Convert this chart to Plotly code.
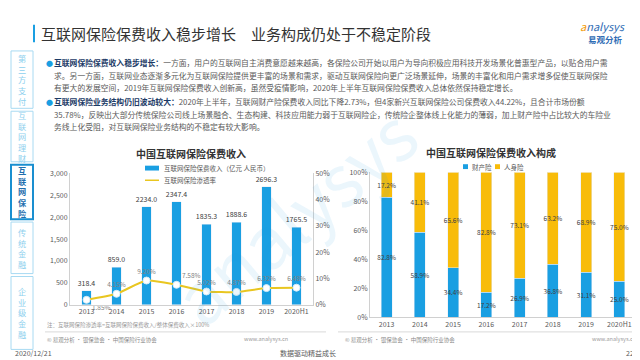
import plotly.graph_objects as go

# ---------------- data ----------------
years = ["2013", "2014", "2015", "2016", "2017", "2018", "2019", "2020H1"]
premium = [318.4, 859.0, 2234.0, 2347.4, 1835.3, 1888.6, 2696.3, 1765.5]
penetration = [1.85, 4.15, 9.20, 7.58, 5.02, 4.87, 6.32, 6.48]
property_share = [82.8, 58.9, 34.4, 17.2, 26.9, 36.8, 31.1, 25.0]
life_share = [17.2, 41.1, 65.6, 82.8, 73.1, 63.2, 68.9, 75.0]

W, H = 640, 360
FONT = "Noto Sans CJK SC"
BLUE = "#1A9FE2"
YELLOW = "#F8BC0A"
LINEY = "#E9C620"


def px(x):
    return x / W


def py(y):
    return 1 - y / H


fig = go.Figure()

# ---- left chart ----
fig.add_trace(go.Bar(
    x=years, y=premium, name="互联网保险保费收入（亿元 人民币）",
    marker_color=BLUE, xaxis="x", yaxis="y",
    text=[f"{v:.1f}" for v in premium], textposition="outside",
    textfont=dict(size=7, color="#404040"), constraintext="none", textangle=0,
    cliponaxis=False, showlegend=False,
))
pos = ["bottom right", "top center", "top center", "top right", "top center",
       "top center", "top center", "top center"]
fig.add_trace(go.Scatter(
    x=years, y=penetration, name="互联网保险渗透率", xaxis="x", yaxis="y3",
    mode="lines+markers+text", line=dict(color=LINEY, width=2, shape="spline", smoothing=0.6),
    marker=dict(color="white", size=7, line=dict(color="#d6ecf8", width=1)),
    text=[f"{v:.2f}%" for v in penetration], textposition=pos,
    textfont=dict(size=6.5, color="#7f7f7f"), cliponaxis=False, showlegend=False,
))

# ---- right chart ----
fig.add_trace(go.Bar(
    x=years, y=property_share, name="财产险", marker_color=BLUE,
    xaxis="x2", yaxis="y2", text=[f"{v:.1f}%" for v in property_share],
    textposition="inside", insidetextanchor="middle", constraintext="none", textangle=0,
    textfont=dict(size=6.5, color="#404040"), showlegend=False,
))
fig.add_trace(go.Bar(
    x=years, y=life_share, name="人身险", marker_color=YELLOW,
    xaxis="x2", yaxis="y2", text=[f"{v:.1f}%" for v in life_share],
    textposition="inside", insidetextanchor="middle", constraintext="none", textangle=0,
    textfont=dict(size=6.5, color="#404040"), showlegend=False,
))

axfont = dict(size=7, color="#595959", family=FONT)
fig.update_layout(
    width=W, height=H, margin=dict(l=0, r=0, t=0, b=0),
    paper_bgcolor="white", plot_bgcolor="rgba(0,0,0,0)",
    font=dict(family=FONT, color="#404040"),
    barmode="stack", bargap=0.67, showlegend=False,
    xaxis=dict(domain=[px(62), px(305)], type="category", showline=True, linecolor="#d0d0d0",
               ticks="", tickfont=axfont, anchor="y", showgrid=False),
    yaxis=dict(domain=[py(299), py(164)], range=[0, 3000], dtick=500, tickformat=",",
               showline=True, linecolor="#d0d0d0", showgrid=False, zeroline=False,
               tickfont=axfont, anchor="x"),
    yaxis3=dict(overlaying="y", side="right", range=[0, 50], dtick=10, ticksuffix="%",
                showline=True, linecolor="#d0d0d0", showgrid=False, zeroline=False,
                tickfont=axfont, anchor="x"),
    xaxis2=dict(domain=[px(362), px(628)], type="category", showline=True, linecolor="#d0d0d0",
                ticks="", tickfont=axfont, anchor="y2", showgrid=False),
    yaxis2=dict(domain=[py(312), py(163)], range=[0, 100], dtick=20, ticksuffix="%",
                showline=True, linecolor="#d0d0d0", showgrid=False, zeroline=False,
                tickfont=axfont, anchor="x2"),
)

ann = []
shapes = []


def text(x, y, s, size=8, color="#404040", xanchor="left", **kw):
    ann.append(dict(x=px(x), y=py(y), xref="paper", yref="paper", text=s, showarrow=False,
                    xanchor=xanchor, yanchor="middle",
                    font=dict(size=size, color=color, family=FONT), **kw))


def rect(x0, y0, x1, y1, fill, line=None, width=0):
    shapes.append(dict(type="rect", xref="paper", yref="paper", x0=px(x0), x1=px(x1),
                       y0=py(y1), y1=py(y0), fillcolor=fill,
                       line=dict(color=line or fill, width=width)))


# watermark
text(285, 205, "analysys", size=72, color="rgba(30,159,224,0.09)", xanchor="center",
     textangle=-40)

# title
shapes.append(dict(type="line", xref="paper", yref="paper", x0=px(26), x1=px(26),
                   y0=py(11), y1=py(29), line=dict(color=BLUE, width=2)))
text(31, 20, "互联网保险保费收入稳步增长\u3000业务构成仍处于不稳定阶段", size=15, color="#333333")

# logo
text(594, 12, "<i><span style='color:#F39800'>a</span>nalysys</i>", size=11, color="#2F6DB5",
     xanchor="center")
text(597, 26, "<b>易观分析</b>", size=8.5, color="#2F6DB5", xanchor="center")

# sidebar
side = [("第三方支付", 38, 97, False), ("互联网理财", 100, 152, False),
        ("互联网保险", 155, 211, True), ("传统金融", 214, 267, False),
        ("企业级金融", 270, 345, False)]
for label, y0, y1, hi in side:
    rect(3, y0, 25, y1, "white", "#1A8FD0" if hi else "#A8DAF2", 2 if hi else 1)
    s = "<br>".join(label)
    if hi:
        s = "<b>" + s + "</b>"
    text(14, (y0 + y1) / 2, s, size=8.2, color="#1F6FAE" if hi else "#8ED0EE",
         xanchor="center")

# paragraphs
NAVY = "#1B3A66"
lines = [
    (50, "<b><span style='color:%s'>互联网保险保费收入稳步增长：</span></b>一方面，用户的互联网自主消费意愿越来越高，各保险公司开始以用户为导向积极应用科技开发场景化普惠型产品，以贴合用户需" % NAVY, True),
    (63, "求。另一方面，互联网业态逐渐多元化为互联网保险提供更丰富的场景和需求，驱动互联网保险向更广泛场景延伸，场景的丰富化和用户需求增多促使互联网保险", False),
    (76, "有更大的发展空间，2019年互联网保险保费收入创新高，虽然受疫情影响，2020年上半年互联网保险保费收入总体依然保持稳定增长。", False),
    (90, "<b><span style='color:%s'>互联网保险业务结构仍旧波动较大：</span></b>2020年上半年，互联网财产险保费收入同比下降2.73%%，但4家新兴互联网保险公司保费收入44.22%%，且合计市场份额" % NAVY, True),
    (103, "35.78%，反映出大部分传统保险公司线上场景融合、生态构建、科技应用能力弱于互联网险企，传统险企整体线上化能力的薄弱，加上财产险中占比较大的车险业", False),
    (116, "务线上化受阻，对互联网保险业务结构的不稳定有较大影响。", False),
]
for y, s, bullet in lines:
    if bullet:
        text(36, y, "●", size=7, color=BLUE)
    text(44, y, s, size=7.8, color="#595959")

# chart titles
text(183, 143, "<b>中国互联网保险保费收入</b>", size=10, color="#333333", xanchor="center")
text(483, 142.5, "<b>中国互联网保险保费收入构成</b>", size=10, color="#333333", xanchor="center")

# legends (drawn manually)
rect(137, 156, 151, 161, BLUE)
text(154, 158, "互联网保险保费收入（亿元 人民币）", size=6.5, color="#595959")
shapes.append(dict(type="line", xref="paper", yref="paper", x0=px(137), x1=px(151),
                   y0=py(171), y1=py(171), line=dict(color=LINEY, width=1.5)))
text(154, 171, "互联网保险渗透率", size=6.5, color="#595959")
rect(455, 154.5, 460, 159.5, BLUE)
text(462, 157, "财产险", size=6.5, color="#595959")
rect(487, 154.5, 492, 159.5, YELLOW)
text(494, 157, "人身险", size=6.5, color="#595959")

# notes & sources
text(37, 320, "注：互联网保险渗透率=互联网保险保费收入/整体保费收入×100%", size=5.5, color="#9a9a9a")
for x0, x1 in [(37, 318), (330, 628)]:
    shapes.append(dict(type="line", xref="paper", yref="paper", x0=px(x0), x1=px(x1),
                       y0=py(327), y1=py(327), line=dict(color="#d9d9d9", width=1)))
text(37, 335, "© 易观分析 · 银保监会 · 中国保险行业协会", size=5.5, color="#8a8a8a")
text(258, 334, "www.analysys.cn", size=5.5, color="#9a9a9a", xanchor="center")
text(335, 335, "© 易观分析 · 银保监会 · 中国保险行业协会", size=5.5, color="#8a8a8a")
text(606, 334, "www.analysys.cn", size=5.5, color="#9a9a9a", xanchor="center")

# footer
text(5, 349, "2020/12/21", size=7, color="#595959")
text(300, 349, "数据驱动精益成长", size=7, color="#595959", xanchor="center")
text(622, 349, "22", size=7, color="#595959", xanchor="center")

fig.update_layout(annotations=ann, shapes=shapes)
fig.write_html("out.html")
